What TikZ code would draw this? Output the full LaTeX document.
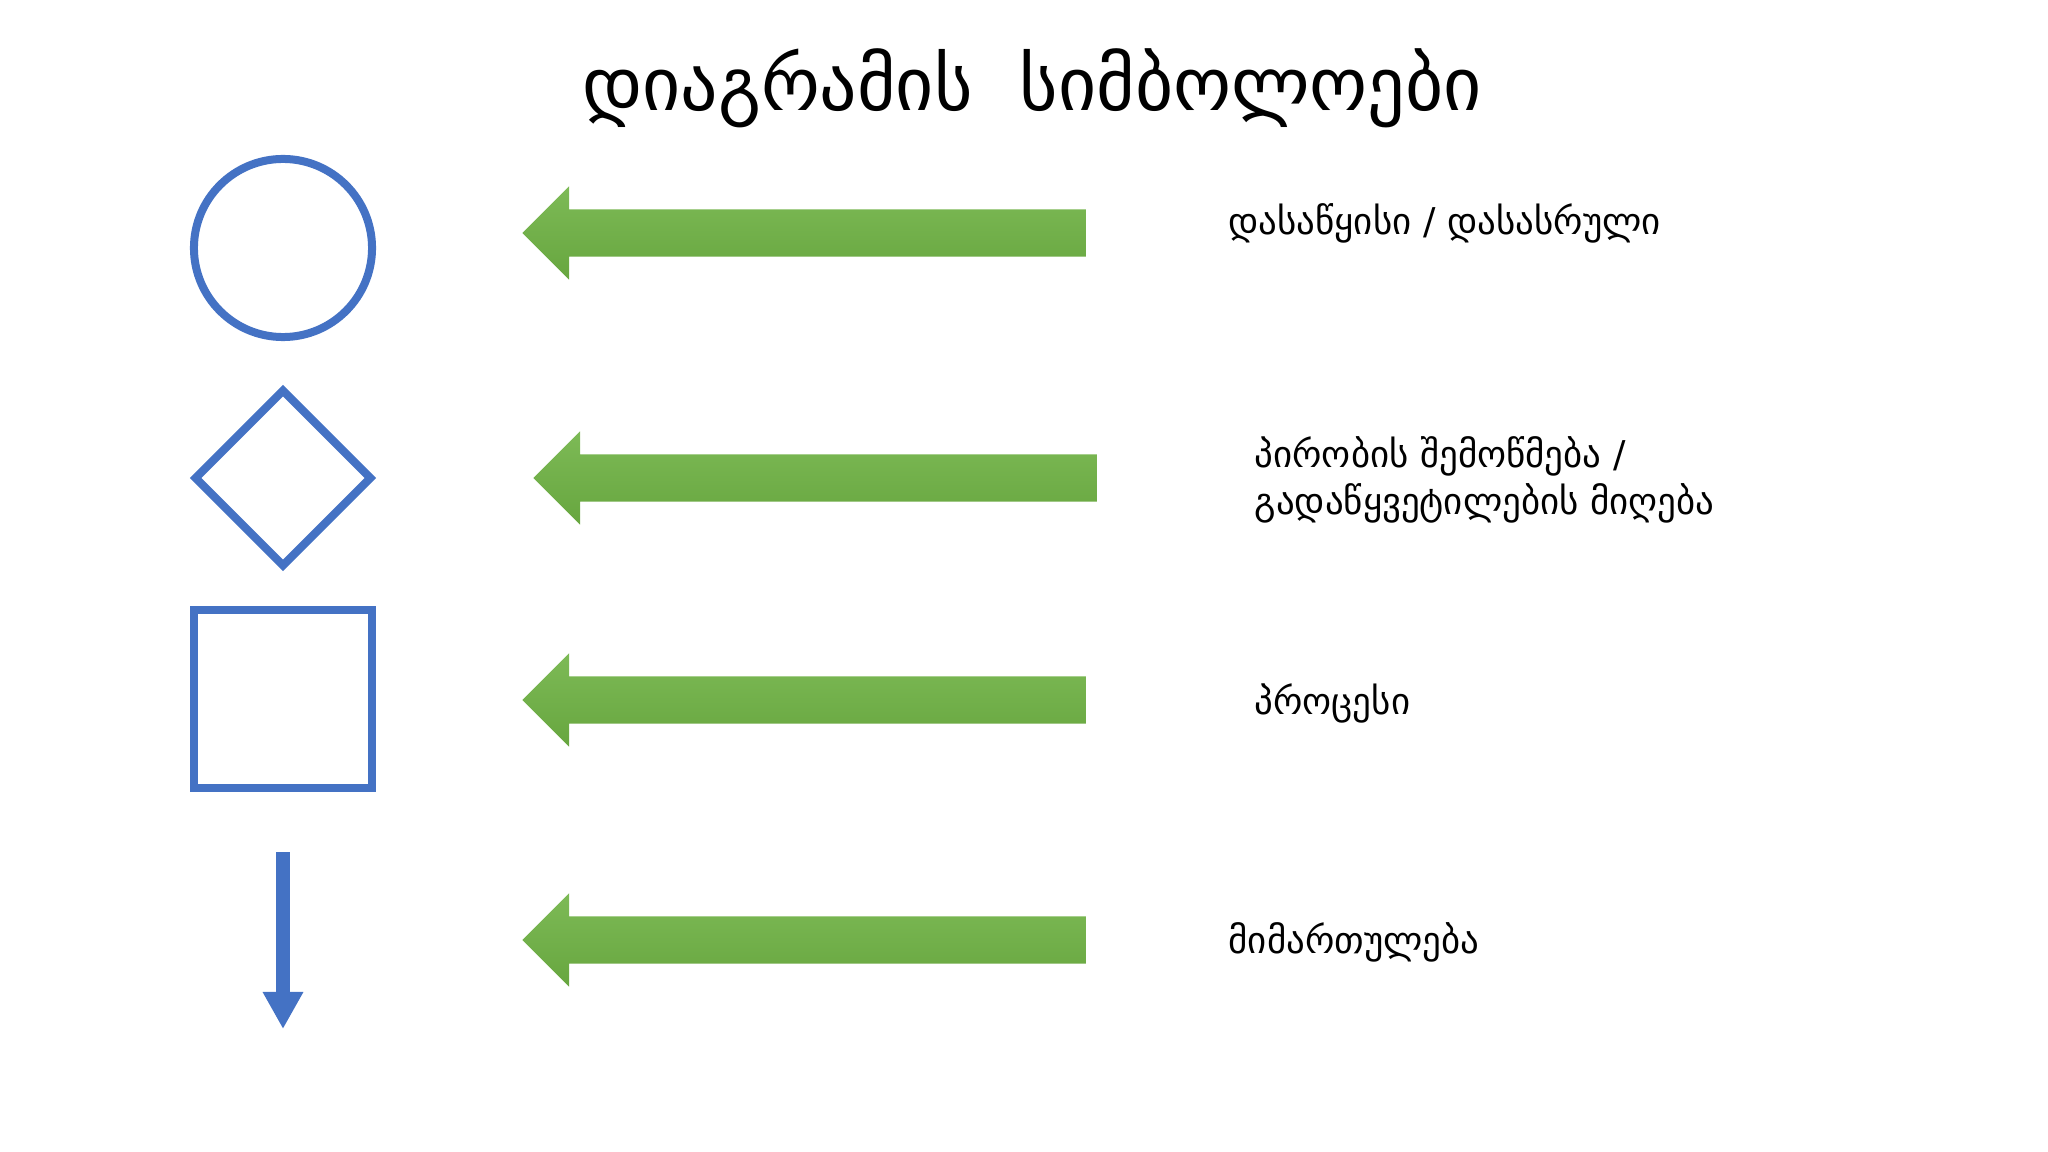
\documentclass[tikz,border=0pt]{standalone}
\usepackage{fontspec}
\setmainfont{DejaVu Sans}
\usetikzlibrary{shapes.geometric,shapes.arrows,arrows.meta}
\definecolor{symblue}{HTML}{4472C4}
\definecolor{greentop}{HTML}{7DBA56}
\definecolor{greenbot}{HTML}{67A63F}
\begin{document}
\begin{tikzpicture}[x=0.01cm, y=-0.01cm,
    symbol/.style={draw=symblue, line width=0.08cm, inner sep=0pt},
    pointer/.style={single arrow, shape border rotate=180, top color=greentop, bottom color=greenbot,
      draw=none, inner sep=0.23cm, minimum height=5.63cm, minimum width=0.92cm,
      single arrow head extend=0.23cm, single arrow head indent=0pt},
    caption/.style={inner sep=0pt, font=\fontsize{10.5}{13.3}\selectfont},
    flowline/.style={symblue, line width=0.13cm, -{Triangle[width=0.38cm,length=0.37cm]}}]
        \useasboundingbox (0,0) rectangle (2048,1152);

        \node[anchor=base, inner sep=0pt, font=\fontsize{21}{25}\selectfont] at (1032,111) (title) {დიაგრამის\ \ სიმბოლოები};

        \node[symbol, circle, minimum size=1.78cm] at (283,248) (start) {};
        \node[symbol, diamond, minimum width=1.78cm, minimum height=1.78cm] at (283,478) (decision) {};
        \node[symbol, rectangle, minimum size=1.77cm] at (283,699) (process) {};
        \coordinate (flowtop) at (283,852);
        \coordinate (flowtip) at (283,1029);

        \node[pointer] at (816,233) (ptrA) {};
        \node[pointer] at (827,478) (ptrB) {};
        \node[pointer] at (816,700) (ptrC) {};
        \node[pointer] at (816,940) (ptrD) {};

        \node[caption, anchor=base west] at (1228,235) (lblA) {დასაწყისი / დასასრული};
        \node[caption, anchor=west, align=left] at (1254,480) (lblB) {პირობის შემოწმება /\\გადაწყვეტილების მიღება};
        \node[caption, anchor=base west] at (1254,714) (lblC) {პროცესი};
        \node[caption, anchor=base west] at (1228,953) (lblD) {მიმართულება};

        \draw[flowline] (flowtop) -- (flowtip);
      \end{tikzpicture}
\end{document}
